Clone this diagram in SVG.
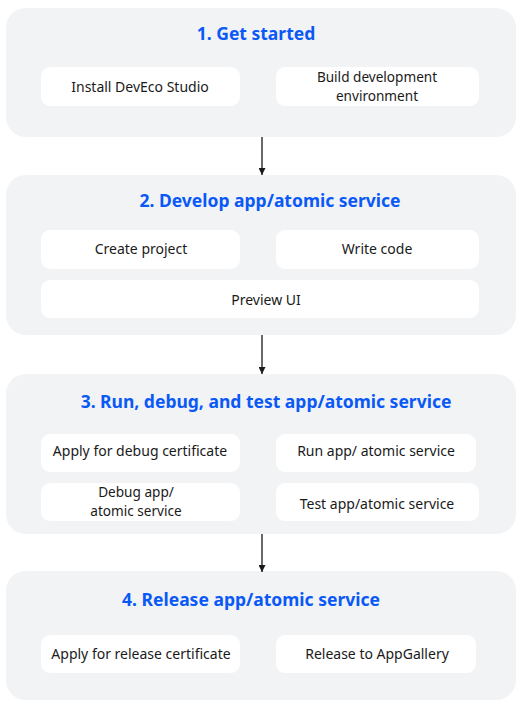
<svg xmlns="http://www.w3.org/2000/svg" width="525" height="704" viewBox="0 0 525 704">
<defs>
<style>
.panel{fill:#f1f3f5}
.box{fill:#ffffff}
.title{font-family:"Noto Sans","Liberation Sans",sans-serif;font-weight:bold;font-size:17.5px;fill:#0a59f7;text-anchor:middle}
.lbl{font-family:"Noto Sans","Liberation Sans",sans-serif;font-size:14px;fill:#1a1a1a;text-anchor:middle}
.lbl2{font-size:13.6px}
.conn{stroke:#1a1a1a;stroke-width:1.3;fill:none}
</style>
<marker id="arr" viewBox="0 0 10 10" refX="10" refY="5" markerWidth="7" markerHeight="7" markerUnits="userSpaceOnUse" orient="auto">
<path d="M0,0 L10,5 L0,10 z" fill="#1a1a1a"/>
</marker>
</defs>
<rect width="525" height="704" fill="#ffffff"/>
<g id="stage1">
<rect class="panel" x="6" y="8" width="510" height="129" rx="20"/>
<text class="title" x="256" y="40">1. Get started</text>
</g>
<g id="install"><rect class="box" x="41" y="67" width="199" height="39" rx="9"/><text class="lbl" x="140" y="92">Install DevEco Studio</text></g>
<g id="build"><rect class="box" x="276" y="67" width="203" height="39" rx="9"/><text class="lbl lbl2" x="377" y="82.3">Build development</text><text class="lbl lbl2" x="377" y="100.9">environment</text></g>
<g id="stage2">
<rect class="panel" x="6" y="175" width="510" height="160" rx="20"/>
<text class="title" x="270" y="207">2. Develop app/atomic service</text>
</g>
<g id="create"><rect class="box" x="41" y="230" width="199" height="39" rx="9"/><text class="lbl" x="141" y="254">Create project</text></g>
<g id="write"><rect class="box" x="276" y="230" width="203" height="39" rx="9"/><text class="lbl" x="377" y="254">Write code</text></g>
<g id="preview"><rect class="box" x="41" y="280" width="438" height="38" rx="9"/><text class="lbl" x="266" y="305">Preview UI</text></g>
<g id="stage3">
<rect class="panel" x="6" y="374" width="510" height="160" rx="20"/>
<text class="title" x="266" y="408">3. Run, debug, and test app/atomic service</text>
</g>
<g id="applydebug"><rect class="box" x="41" y="434" width="199" height="38" rx="9"/><text class="lbl" x="140" y="456">Apply for debug certificate</text></g>
<g id="run"><rect class="box" x="276" y="434" width="200" height="38" rx="9"/><text class="lbl" x="376" y="456">Run app/ atomic service</text></g>
<g id="debug"><rect class="box" x="41" y="483" width="199" height="38" rx="9"/><text class="lbl lbl2" x="136" y="497.3">Debug app/</text><text class="lbl lbl2" x="136" y="515.9">atomic service</text></g>
<g id="test"><rect class="box" x="276" y="483" width="203" height="38" rx="9"/><text class="lbl" x="377" y="509">Test app/atomic service</text></g>
<g id="stage4">
<rect class="panel" x="6" y="571" width="510" height="129" rx="20"/>
<text class="title" x="251" y="606">4. Release app/atomic service</text>
</g>
<g id="applyrelease"><rect class="box" x="41" y="635" width="199" height="38" rx="9"/><text class="lbl" x="141" y="659">Apply for release certificate</text></g>
<g id="release"><rect class="box" x="276" y="635" width="200" height="38" rx="9"/><text class="lbl" x="377" y="659">Release to AppGallery</text></g>
<g id="connectors">
<line class="conn" x1="262" y1="137" x2="262" y2="175" marker-end="url(#arr)"/>
<line class="conn" x1="262" y1="335" x2="262" y2="374" marker-end="url(#arr)"/>
<line class="conn" x1="262" y1="534" x2="262" y2="572" marker-end="url(#arr)"/>
</g>
</svg>
